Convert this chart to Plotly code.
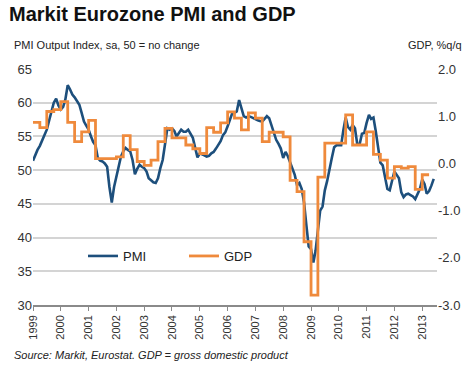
import plotly.graph_objects as go
import pandas as pd

# ---------------- data ----------------
pmi_start = "1999-01-01"
pmi_values = [
    # 1999
    51.4, 52.3, 53.0, 53.6, 54.3, 55.2, 56.0, 57.4, 58.4, 60.0, 60.6, 59.6,
    # 2000
    59.0, 59.4, 60.5, 62.6, 62.0, 61.2, 60.8, 60.2, 59.7, 58.5, 57.2, 56.6,
    # 2001
    56.0, 55.0, 54.2, 53.7, 51.8, 51.4, 51.3, 51.0, 50.5, 47.5, 45.2, 47.5,
    # 2002
    49.2, 50.8, 52.0, 52.8, 53.3, 53.0, 52.8, 51.5, 49.4, 50.2, 50.8, 50.5,
    # 2003
    50.3, 49.8, 48.8, 48.5, 48.2, 48.1, 48.8, 50.3, 51.5, 53.8, 56.2, 56.0,
    # 2004
    56.2, 55.8, 55.0, 55.5, 56.0, 55.7, 55.7, 56.0, 55.4, 54.8, 53.3, 51.9,
    # 2005
    52.5, 52.4, 52.2, 52.0, 52.1, 52.5, 52.7, 53.2, 53.8, 54.3, 55.2, 55.6,
    # 2006
    56.5, 57.5, 58.4, 58.5, 58.7, 60.4, 59.0, 58.0, 57.8, 58.0, 57.9, 57.7,
    # 2007
    57.5, 57.4, 57.3, 57.2, 57.6, 58.0, 57.7, 56.7, 55.4, 54.5, 53.9, 53.2,
    # 2008
    51.8, 52.7, 52.1, 51.2, 50.4, 49.3, 47.8, 48.1, 47.2, 45.2, 41.8, 38.7,
    # 2009
    38.3, 36.3, 38.0, 41.0, 44.0, 44.6, 47.0, 48.4, 50.4, 51.8, 53.4, 53.7,
    # 2010
    53.7, 53.7, 55.9, 57.8, 56.4, 56.0, 56.7, 56.2, 53.8, 53.8, 55.4, 55.5,
    # 2011
    57.0, 58.2, 57.6, 57.8, 55.8, 53.3, 51.1, 50.7, 49.1, 47.2, 47.0, 48.3,
    # 2012
    49.8, 49.3, 48.8, 46.7, 46.0, 46.4, 46.5, 46.3, 46.1, 45.7, 46.5, 47.2,
    # 2013
    48.6, 47.9, 46.5, 46.9, 47.7, 48.7,
]

gdp_start = "1999-01-01"
gdp_values = [
    # 1999
    0.87, 0.76, 1.10, 1.14,
    # 2000
    1.31, 0.87, 0.46, 0.67,
    # 2001
    0.91, 0.10, 0.10, 0.10,
    # 2002
    0.14, 0.59, 0.29, 0.04,
    # 2003
    -0.04, 0.07, 0.46, 0.74,
    # 2004
    0.54, 0.54, 0.39, 0.31,
    # 2005
    0.21, 0.76, 0.66, 0.86,
    # 2006
    1.09, 0.96, 0.71, 1.07,
    # 2007
    0.96, 0.46, 0.66, 0.66,
    # 2008
    0.56, -0.36, -0.60, -1.66,
    # 2009
    -2.79, -0.29, 0.43, 0.43,
    # 2010
    0.43, 1.03, 0.39, 0.39,
    # 2011
    0.67, 0.19, 0.07, -0.31,
    # 2012
    -0.07, -0.10, -0.07, -0.55,
    # 2013
    -0.24,
]

year_ticks_start = "1999-01-01"
gdp_tick_values = [-3, -2, -1, 0, 1, 2]
gdp_tick_labels = ["-3.0", "-2.0", "-1.0", "0.0", "1.0", "2.0"]

title_text = "Markit Eurozone PMI and GDP"
left_label = "PMI Output Index, sa, 50 = no change"
right_label = "GDP, %q/q"
source_text = "Source: Markit, Eurostat. GDP = gross domestic product"

# ---------------- build ----------------
pmi_dates = pd.date_range(pmi_start, periods=len(pmi_values), freq="MS")
gdp_dates = pd.date_range(gdp_start, periods=len(gdp_values) + 1, freq="QS")
gdp_y = gdp_values + [gdp_values[-1]]

BLUE = "#1d4f7c"
ORANGE = "#ef8a3c"
FONT = "Liberation Sans, Arial, sans-serif"

W, H = 475, 366
ML, MR, MT, MB = 33, 38, 69, 61
PW, PH = W - ML - MR, H - MT - MB


def px(x):
    return (x - ML) / PW


def py(y):
    return (H - MB - y) / PH


fig = go.Figure()
fig.add_trace(go.Scatter(
    x=pmi_dates, y=pmi_values, name="PMI", mode="lines",
    line=dict(color=BLUE, width=2.6), yaxis="y",
))
fig.add_trace(go.Scatter(
    x=gdp_dates, y=gdp_y, name="GDP", mode="lines",
    line=dict(color=ORANGE, width=2.8, shape="hv"), yaxis="y2",
))

fig.update_layout(
    width=W, height=H,
    margin=dict(l=ML, r=MR, t=MT, b=MB, pad=0),
    paper_bgcolor="white", plot_bgcolor="white",
    font=dict(family=FONT, size=13, color="#333333"),
    showlegend=True,
    legend=dict(
        orientation="h", x=px(83), y=py(256), xanchor="left", yanchor="middle",
        bgcolor="rgba(0,0,0,0)", font=dict(size=13, color="#222222"),
        entrywidth=56, entrywidthmode="pixels", itemwidth=30,
    ),
    xaxis=dict(
        type="date",
        range=["1999-01-01", "2013-07-14"],
        tick0=year_ticks_start, dtick="M12", tickformat="%Y",
        tickangle=-90, tickfont=dict(size=11, color="#333333"),
        showgrid=False, zeroline=False,
        showline=True, linecolor="#8a8a8a", linewidth=1.5,
        ticks="outside", ticklen=4, tickcolor="#8a8a8a", tickwidth=1.2,
    ),
    yaxis=dict(
        range=[30, 65], dtick=5, tick0=30,
        showgrid=True, gridcolor="#d4d4d4", gridwidth=1.5,
        zeroline=False, showline=False, ticks="",
        tickfont=dict(size=13, color="#333333"),
    ),
    yaxis2=dict(
        overlaying="y", side="right", range=[-3, 2],
        tickvals=gdp_tick_values, ticktext=gdp_tick_labels,
        showgrid=False, zeroline=False, showline=False, ticks="",
        tickfont=dict(size=13, color="#333333"),
    ),
    annotations=[
        dict(text="<b>" + title_text + "</b>", x=px(7), y=py(14), xref="paper", yref="paper",
             xanchor="left", yanchor="middle", showarrow=False,
             font=dict(size=20, color="#111111", family=FONT)),
        dict(text=left_label, x=px(12), y=py(45), xref="paper", yref="paper",
             xanchor="left", yanchor="middle", showarrow=False,
             font=dict(size=11, color="#222222", family=FONT)),
        dict(text=right_label, x=px(464), y=py(45), xref="paper", yref="paper",
             xanchor="right", yanchor="middle", showarrow=False,
             font=dict(size=11, color="#222222", family=FONT)),
        dict(text="<i>" + source_text + "</i>", x=px(12), y=py(355), xref="paper", yref="paper",
             xanchor="left", yanchor="middle", showarrow=False,
             font=dict(size=11, color="#222222", family=FONT)),
    ],
)

fig.write_html("out.html")
